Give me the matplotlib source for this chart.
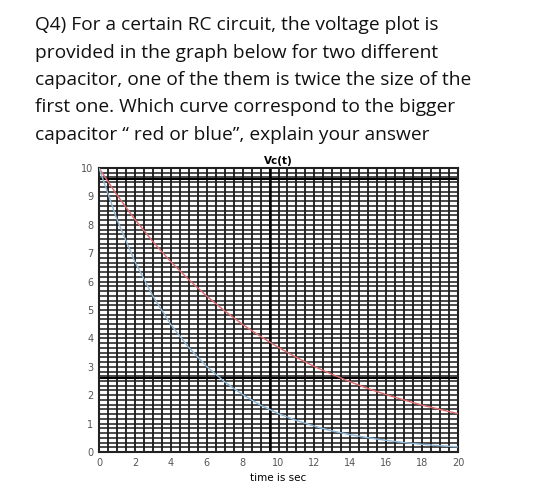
import matplotlib
matplotlib.use("Agg")
import matplotlib.pyplot as plt
import numpy as np

t = [0,1,2,3,4,5,6,7,8,9,10,11,12,13,14,15,16,17,18,19,20]
red = [10,9.05,8.19,7.41,6.70,6.07,5.49,4.97,4.49,4.07,3.68,3.33,3.01,2.73,2.47,2.23,2.02,1.83,1.65,1.50,1.35]
blue = [10,8.19,6.70,5.49,4.49,3.68,3.01,2.47,2.02,1.65,1.35,1.11,0.91,0.74,0.61,0.50,0.41,0.33,0.27,0.22,0.18]
xticks = [0,2,4,6,8,10,12,14,16,18,20]
yticks = [0,1,2,3,4,5,6,7,8,9,10]
question = ["Q4) For a certain RC circuit, the voltage plot is",
            "provided in the graph below for two different",
            "capacitor, one of the them is twice the size of the",
            "first one. Which curve correspond to the bigger",
            "capacitor \u201c red or blue\u201d, explain your answer"]

W, H = 540, 499
fig = plt.figure(figsize=(W/100, H/100), dpi=100)
for i, line in enumerate(question):
    fig.text(35/W, 1 - (16 + i*27.5)/H, line, fontsize=13.8, family="Open Sans",
             va="top", ha="left", color="#111111")

ax = fig.add_axes([99/W, 1-452/H, (458-99)/W, (452-168)/H])
ax.set_xlim(0, 20); ax.set_ylim(0, 10)
for x in np.arange(0, 20.01, 0.5):
    ax.axvline(x, color="#1a1a1a", lw=1.3, zorder=1)
for y in np.arange(0, 10.01, 1/6):
    ax.axhline(y, color="#1a1a1a", lw=1.1, zorder=1)
ax.axvline(9.5, color="#000", lw=1.8, zorder=1)
ax.axhline(2.6, color="#000", lw=1.5, zorder=1)
ax.axhline(9.6, color="#000", lw=1.5, zorder=1)
ax.plot(t, red, color="#e06b70", lw=1.0, zorder=3)
ax.plot(t, blue, color="#8fb8d8", lw=1.0, zorder=3)
ax.set_xticks(xticks); ax.set_yticks(yticks)
ax.tick_params(length=0, labelsize=7, colors="#555555", pad=4)
for s in ax.spines.values():
    s.set_color("#222"); s.set_linewidth(1.5)
ax.set_title("Vc(t)", fontsize=7.5, fontweight="bold", pad=3)
ax.set_xlabel("time is sec", fontsize=7.5, labelpad=4)
fig.savefig("out.png", dpi=100)
